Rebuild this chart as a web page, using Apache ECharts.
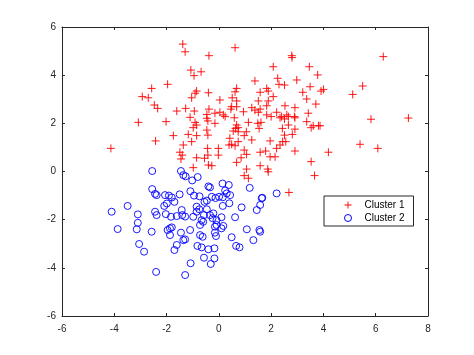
<!DOCTYPE html>
<html>
<head>
<meta charset="utf-8">
<script src="https://cdn.jsdelivr.net/npm/echarts@6/dist/echarts.min.js"></script>
<style>html,body{margin:0;padding:0;background:#fff;}#c{width:474px;height:355px;}</style>
</head>
<body>
<div id="c"></div>
<script>
const xTicks = [-6, -4, -2, 0, 2, 4, 6, 8];
const yTicks = [-6, -4, -2, 0, 2, 4, 6];
const seriesNames = ['Cluster 1', 'Cluster 2'];

const cluster1X = [-1.38,-1.29,-0.38,-1.07,-0.95,-0.68,-1.96,-2.57,-2.93,-2.70,-0.85,-0.91,-1.04,-0.40,-2.47,-2.34,-1.61,-1.27,-0.94,-1.10,-0.46,-3.08,-4.13,
0.62,2.79,2.80,2.08,3.46,3.78,1.38,2.25,2.30,2.51,2.98,1.83,1.89,1.58,0.68,0.62,3.49,3.21,2.08,0.51,0.04,0.68,1.51,1.89,3.36,3.71,2.53,1.83,0.49,0.46,0.68,1.26,1.58,-0.38,2.91,0.04,-0.15,0.17,0.94,1.38,1.51,2.21,2.60,2.89,3.42,1.83,2.40,
6.29,3.91,4.00,5.50,5.12,5.82,7.25,
-2.02,-0.91,-0.85,-0.98,-0.46,-2.42,-1.74,-1.17,-0.85,-1.04,-1.36,-1.49,-1.40,-1.45,-0.85,-0.43,-0.42,-0.55,-0.98,-0.40,
-0.46,-0.42,-0.15,0.24,0.59,0.68,0.64,0.74,0.55,0.74,1.13,1.49,1.54,1.61,2.00,2.34,2.51,2.66,2.91,3.36,2.66,2.43,2.91,3.53,3.61,-0.42,1.05,0.97,0.42,0.49,0.74,0.62,0.39,1.26,1.96,2.51,2.44,2.56,2.21,2.34,2.81,2.91,-0.02,-0.02,0.97,1.06,0.85,0.68,1.58,1.79,1.96,2.15,-0.27,1.58,1.06,1.87,1.89,0.97,1.13,3.53,3.66,2.68,
3.81,3.87,5.40,6.08,4.19];
const cluster1Y = [5.29,4.97,4.81,4.21,3.98,4.14,3.62,3.45,3.11,3.06,3.34,3.25,3.06,3.27,2.76,2.62,2.51,2.62,2.51,2.25,2.37,2.04,0.96,
5.14,4.81,4.73,4.35,4.35,4.01,3.76,3.87,3.62,3.59,3.80,3.45,3.34,3.29,3.45,3.31,3.52,3.29,3.11,3.06,2.97,2.93,2.93,2.93,3.01,2.80,2.73,2.73,2.69,2.59,2.69,2.65,2.59,2.59,2.65,2.46,2.42,2.35,2.48,2.55,2.46,2.46,2.35,2.28,2.42,2.35,2.28,
4.77,3.34,3.41,3.55,3.20,2.17,2.22,
2.07,2.04,1.93,1.82,1.72,1.27,1.49,1.54,1.49,1.24,1.10,0.80,0.68,0.52,0.57,0.96,0.68,0.55,0.16,0.27,
2.21,2.10,2.00,2.28,2.23,1.93,1.79,1.82,1.68,1.65,2.04,2.00,1.79,2.04,2.28,2.23,2.18,2.28,2.23,2.07,1.93,1.79,1.76,1.82,1.90,1.51,1.65,1.49,1.38,1.13,1.24,1.07,1.10,1.31,1.27,1.51,1.24,1.24,0.96,1.10,1.54,0.85,0.96,0.68,0.89,0.71,0.57,0.38,0.80,0.85,0.61,0.61,0.24,0.24,0.10,0.10,-0.01,-0.17,-0.28,0.41,-0.17,-0.87,
1.90,1.90,1.13,0.96,0.80];

const cluster2X = [-2.55,-1.45,-1.36,-1.27,-1.02,-0.81,-0.40,-0.34,0.14,0.38,0.24,0.30,0.43,0.15,0.01,-0.27,-0.13,1.18,1.66,2.21,
-2.55,-2.44,-2.38,-2.06,-1.91,-1.80,-1.70,-1.99,-2.09,-1.50,-1.09,-0.95,-0.74,-0.46,-0.55,
-3.49,-4.10,-3.10,-2.44,-2.38,-2.03,-1.83,-1.61,-1.42,-1.40,-1.29,-0.85,-0.75,-0.46,0.15,0.40,0.87,1.64,1.58,1.45,
-0.98,-0.85,-0.57,-0.66,-0.72,-0.60,-0.34,-0.21,-0.24,-0.15,-0.09,-0.09,0.10,0.17,0.10,0.62,
-3.10,-3.14,-3.87,-2.57,-1.96,-1.87,-1.80,-1.87,-1.45,-1.36,-1.61,-1.70,-3.05,-2.86,-2.40,-1.29,
-1.10,-1.29,-0.72,-0.62,-0.15,-0.11,0.49,1.07,1.55,1.58,1.32,0.66,0.79,-0.82,-0.66,-0.40,-0.17,-0.57,-0.17,-0.31,-1.08];
const cluster2Y = [0.02,0.02,-0.15,-0.20,-0.37,-0.23,-0.62,-0.66,-0.50,-0.56,-0.79,-0.91,-0.98,-1.07,-1.05,-1.05,-1.10,-0.68,-1.09,-0.91,
-0.73,-0.93,-0.98,-0.98,-1.00,-1.08,-1.26,-1.33,-1.43,-0.95,-0.82,-1.00,-1.03,-1.21,-1.26,
-1.43,-1.67,-1.78,-1.67,-1.81,-1.77,-1.88,-1.85,-1.60,-1.81,-1.87,-1.46,-1.57,-1.57,-1.43,-1.32,-1.49,-1.11,-1.39,-1.60,
-1.88,-1.67,-1.81,-2.02,-2.22,-2.09,-1.81,-1.74,-1.94,-2.29,-2.22,-2.02,-1.90,-2.26,-2.36,-1.90,
-2.13,-2.40,-2.39,-2.50,-2.43,-2.36,-2.32,-2.64,-2.54,-2.85,-3.05,-3.26,-3.01,-3.33,-4.17,-4.30,
-2.43,-2.82,-2.64,-2.71,-2.54,-2.68,-2.73,-2.40,-2.43,-2.50,-2.85,-3.09,-3.15,-3.09,-3.15,-3.23,-3.19,-3.58,-3.61,-3.84,-3.81];

const pts = (xs, ys) => xs.map((x, i) => [x, ys[i]]);
const axisColor = '#262626';
const red = '#ff0000', blue = '#0000ff';
const font = '"Liberation Sans", Arial, Helvetica, sans-serif';
const plusFilled = 'path://M3.5,0h1v8h-1zM0,3.5h8v1h-8z';

function xAx(pos, showLabel) {
  return {
    type: 'value', position: pos, min: xTicks[0], max: xTicks[xTicks.length - 1], interval: 2,
    axisLine: { show: true, onZero: false, lineStyle: { color: axisColor, width: 1 } },
    axisTick: { show: true, inside: true, length: 3, lineStyle: { color: axisColor } },
    axisLabel: { show: showLabel, color: axisColor, fontSize: 10, fontFamily: font, margin: 8 },
    splitLine: { show: false }
  };
}
function yAx(pos, showLabel) {
  return {
    type: 'value', position: pos, min: yTicks[0], max: yTicks[yTicks.length - 1], interval: 2,
    axisLine: { show: true, onZero: false, lineStyle: { color: axisColor, width: 1 } },
    axisTick: { show: true, inside: true, length: 3, lineStyle: { color: axisColor } },
    axisLabel: { show: showLabel, color: axisColor, fontSize: 10, fontFamily: font, margin: 6 },
    splitLine: { show: false }
  };
}

const chart = echarts.init(document.getElementById('c'), null, { renderer: 'canvas' });
chart.setOption({
  animation: false,
  backgroundColor: '#fff',
  grid: { left: 62, top: 27, right: 46, bottom: 39 },
  xAxis: [xAx('bottom', true), xAx('top', false)],
  yAxis: [yAx('left', true), yAx('right', false)],
  legend: {
    data: [
      { name: seriesNames[0], icon: plusFilled, itemStyle: { color: red, borderColor: red, borderWidth: 0 } },
      { name: seriesNames[1], icon: 'circle', itemStyle: { color: 'transparent', borderColor: blue, borderWidth: 1 } }
    ],
    orient: 'vertical',
    left: 324, top: 196,
    padding: [3, 9, 2, 20],
    itemWidth: 7, itemHeight: 7, itemGap: 1, itemTextGap: 10,
    borderColor: axisColor, borderWidth: 1, borderRadius: 0,
    backgroundColor: '#fff',
    textStyle: { color: '#000', fontSize: 10, fontFamily: font, lineHeight: 12, padding: [0, 0, 0, 8] }
  },
  series: [
    {
      name: seriesNames[0], type: 'scatter', xAxisIndex: 0, yAxisIndex: 0,
      symbol: 'path://M5,0V10M0,5H10', symbolSize: 8,
      itemStyle: { color: 'transparent', borderColor: red, borderWidth: 0.9, opacity: 1 },
      data: pts(cluster1X, cluster1Y)
    },
    {
      name: seriesNames[1], type: 'scatter', xAxisIndex: 0, yAxisIndex: 0,
      symbol: 'circle', symbolSize: 7,
      itemStyle: { color: 'transparent', borderColor: blue, borderWidth: 0.9, opacity: 1 },
      data: pts(cluster2X, cluster2Y)
    }
  ]
});
</script>
</body>
</html>
